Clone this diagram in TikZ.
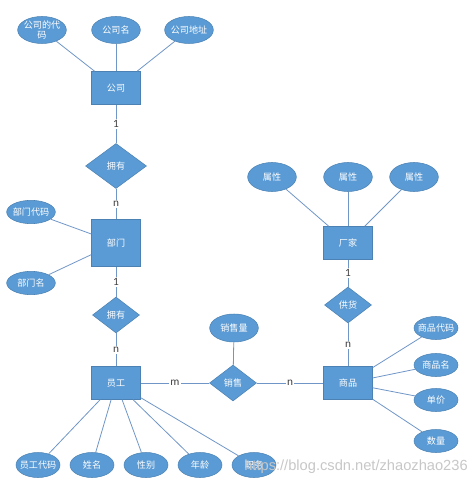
\documentclass[tikz,border=0pt]{standalone}
\usepackage{fontspec}
\setmainfont{Noto Sans CJK SC}
\newfontfamily\cardfont{Carlito}
\newfontfamily\markfont{Liberation Sans}
\definecolor{ERblue}{RGB}{91, 155, 213}
\definecolor{ERedge}{RGB}{65, 113, 156}
\definecolor{ERline}{RGB}{112, 150, 200}
\usetikzlibrary{positioning, shapes.geometric}

\begin{document}
\begin{tikzpicture}[x=0.75pt, y=-0.75pt,
                entity/.style={rectangle,
                draw=ERedge!60!ERblue,
                fill=ERblue,
                text=white,
                minimum width=36.75pt,
                minimum height=24.75pt,
                inner sep=1pt,
                font=\fontsize{6.8}{8}\selectfont},
                rel/.style={diamond,
                draw=ERedge!60!ERblue,
                fill=ERblue,
                text=white,
                minimum width=35.25pt,
                minimum height=27pt,
                inner sep=0pt,
                font=\fontsize{6.8}{8}\selectfont},
                attr/.style={ellipse,
                draw=ERedge!60!ERblue,
                fill=ERblue,
                text=white,
                minimum width=36.5pt,
                minimum height=19.5pt,
                inner sep=-4pt,
                align=center,
                font=\fontsize{6.8}{7.2}\selectfont},
                link/.style={ERline, line width=0.6pt},
                card/.style={fill=white, inner sep=1pt, text=black!75,
                font=\cardfont\fontsize{8.5}{9}\selectfont}]
                \useasboundingbox (0,0) rectangle (474,491);
                % entities
                \node[entity] (gs) at (116,88) {公司};
                \node[entity, minimum height=35.25pt] (bm) at (116,243) {部门};
                \node[entity] (yg) at (116,383) {员工};
                \node[entity] (cj) at (348,243) {厂家};
                \node[entity] (sp) at (348,383) {商品};
                % relationships
                \node[rel, minimum width=45.75pt, minimum height=33.75pt] (yy1) at (116,166) {拥有};
                \node[rel] (yy2) at (116,315) {拥有};
                \node[rel] (xs) at (233,383) {销售};
                \node[rel] (gh) at (348,305) {供货};
                % attributes
                \node[attr, minimum height=20.25pt] (gsdm) at (42,30) {公司的代\\码};
                \node[attr, minimum height=20.25pt] (gsm) at (116,30) {公司名};
                \node[attr, minimum height=20.25pt] (gsdz) at (189,30) {公司地址};
                \node[attr, minimum height=17.5pt] (bmdm) at (31,212) {部门代码};
                \node[attr, minimum height=17.5pt] (bmm) at (31,283) {部门名};
                \node[attr, minimum height=21pt] (xsl) at (234,328) {销售量};
                \node[attr, minimum height=21.75pt] (sx1) at (272,177) {属性};
                \node[attr, minimum height=21.75pt] (sx2) at (348,177) {属性};
                \node[attr, minimum height=21.75pt] (sx3) at (414,177) {属性};
                \node[attr, minimum width=33pt, minimum height=17.25pt] (spdm) at (436,328) {商品代码};
                \node[attr, minimum width=33pt, minimum height=17.25pt] (spm) at (436,365) {商品名};
                \node[attr, minimum width=33pt, minimum height=17.25pt] (dj) at (436,400) {单价};
                \node[attr, minimum width=33pt, minimum height=17.25pt] (sl) at (436,441) {数量};
                \node[attr, minimum width=33pt, minimum height=18.75pt] (ygdm) at (38,465) {员工代码};
                \node[attr, minimum width=33pt, minimum height=18.75pt] (xm) at (92,465) {姓名};
                \node[attr, minimum width=33pt, minimum height=18.75pt] (xb) at (146,465) {性别};
                \node[attr, minimum width=33pt, minimum height=18.75pt] (nl) at (200,465) {年龄};
                \node[attr, minimum width=33pt, minimum height=18.75pt] (zw) at (254,465) {职务};
                % relationship lines
                \draw[link] (gs)--node[card]{1}(yy1);
                \draw[link] (yy1)--node[card]{n}(bm);
                \draw[link] (bm)--node[card]{1}(yy2);
                \draw[link] (yy2)--node[card]{n}(yg);
                \draw[link] (yg)--node[card]{m}(xs);
                \draw[link] (xs)--node[card]{n}(sp);
                \draw[link] (cj)--node[card]{1}(gh);
                \draw[link] (gh)--node[card]{n}(sp);
                % attribute lines
                \draw[link] (gsdm)--(gs);
                \draw[link] (gsm)--(gs);
                \draw[link] (gsdz)--(gs);
                \draw[link] (bmdm)--(bm);
                \draw[link] (bmm)--(bm);
                \draw[link] (xsl)--(xs);
                \draw[link] (sx1)--(cj);
                \draw[link] (sx2)--(cj);
                \draw[link] (sx3)--(cj);
                \draw[link] (spdm)--(sp);
                \draw[link] (spm)--(sp);
                \draw[link] (dj)--(sp);
                \draw[link] (sl)--(sp);
                \draw[link] (ygdm)--(yg);
                \draw[link] (xm)--(yg);
                \draw[link] (xb)--(yg);
                \draw[link] (nl)--(yg);
                \draw[link] (zw)--(yg);
                \node[text=black!22, font=\markfont\fontsize{11}{12}\selectfont]
                    (wm) at (356,467) {https://blog.csdn.net/zhaozhao236};
            \end{tikzpicture}
\end{document}
